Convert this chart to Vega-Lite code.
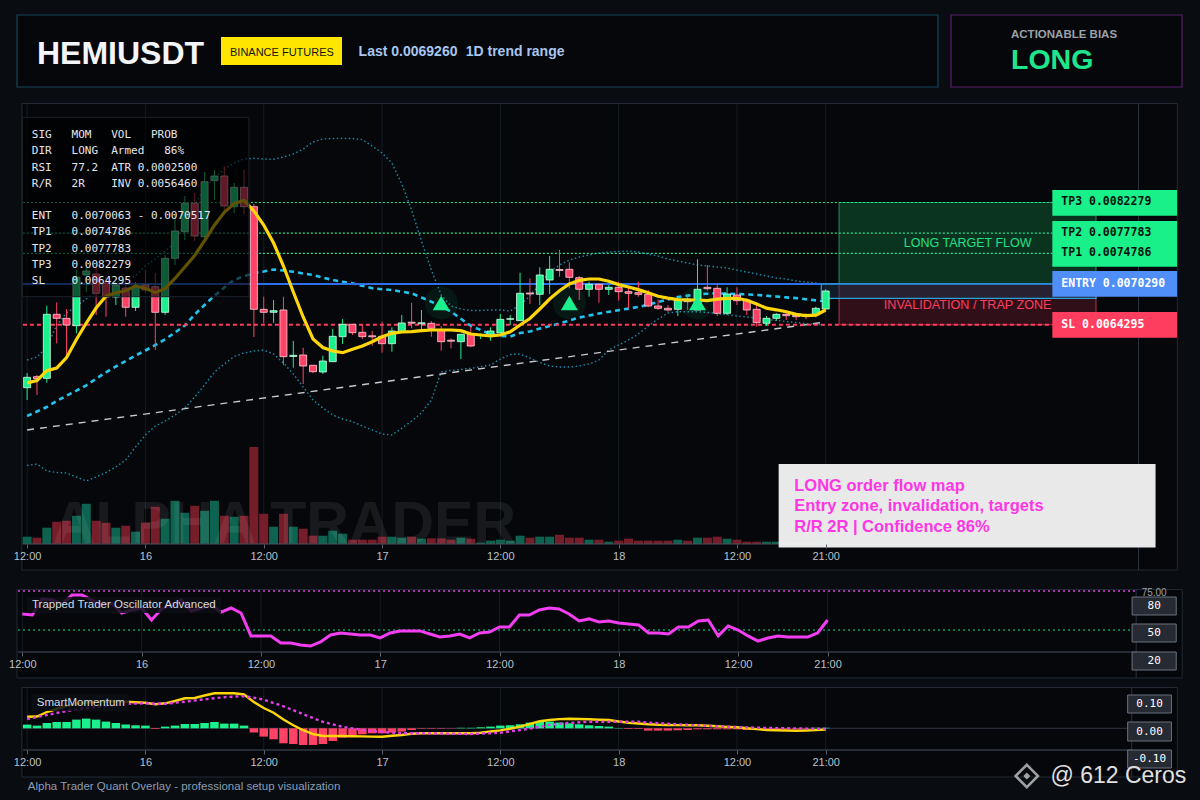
{
"$schema": "https://vega.github.io/schema/vega-lite/v6.json",
"background": "#090c11",
"padding": 0,
"spacing": 0,
"bounds": "flush",
"config": {"view": {"stroke": null}, "font": "Liberation Sans"},
"datasets": {
"bars": [
{"hour":0,"o":0.005504,"h":0.0057202,"l":0.0053231,"c":0.0056569,"vol":22,"ema":0.0055731,"bbu":0.0059114,"bbm":0.0050878,"bbl":0.0043599,"osc":60.3,"mh":0.0148,"my":0.0464,"mm":0.0372},
{"hour":1,"o":0.0056658,"h":0.0056908,"l":0.0053966,"c":0.0056364,"vol":19,"ema":0.0056099,"bbu":0.0059555,"bbm":0.005154,"bbl":0.0043819,"osc":59.6,"mh":0.0108,"my":0.0472,"mm":0.0452},
{"hour":2,"o":0.0056422,"h":0.0067099,"l":0.0055775,"c":0.0065834,"vol":49,"ema":0.005754,"bbu":0.0061025,"bbm":0.0052202,"bbl":0.004279,"osc":69.9,"mh":0.0212,"my":0.0652,"mm":0.0532},
{"hour":3,"o":0.0065834,"h":0.0067599,"l":0.0061569,"c":0.0065246,"vol":67,"ema":0.0057937,"bbu":0.0064261,"bbm":0.0053084,"bbl":0.0042569,"osc":69.2,"mh":0.0252,"my":0.0772,"mm":0.0612},
{"hour":4,"o":0.0065246,"h":0.0066614,"l":0.0059849,"c":0.0064261,"vol":70,"ema":0.0059481,"bbu":0.0066025,"bbm":0.0053864,"bbl":0.0042496,"osc":66.7,"mh":0.0252,"my":0.0904,"mm":0.0692},
{"hour":5,"o":0.0064158,"h":0.0072349,"l":0.006304,"c":0.0071319,"vol":85,"ema":0.0062128,"bbu":0.0067055,"bbm":0.0054599,"bbl":0.0041908,"osc":72.4,"mh":0.0348,"my":0.0972,"mm":0.0748},
{"hour":6,"o":0.0071614,"h":0.007279,"l":0.0069114,"c":0.0072202,"vol":121,"ema":0.0064555,"bbu":0.0068084,"bbm":0.0055393,"bbl":0.0041319,"osc":72.4,"mh":0.0388,"my":0.1032,"mm":0.0812},
{"hour":7,"o":0.0071761,"h":0.0072834,"l":0.0065731,"c":0.0068922,"vol":70,"ema":0.0066761,"bbu":0.0069114,"bbm":0.0056364,"bbl":0.0041908,"osc":69.2,"mh":0.0348,"my":0.1064,"mm":0.0852},
{"hour":8,"o":0.0070437,"h":0.0071364,"l":0.0065481,"c":0.0068378,"vol":64,"ema":0.0068525,"bbu":0.0069849,"bbm":0.0057305,"bbl":0.0042569,"osc":66.0,"mh":0.0268,"my":0.1092,"mm":0.0892},
{"hour":9,"o":0.0068378,"h":0.0070584,"l":0.0067202,"c":0.0070143,"vol":49,"ema":0.0069011,"bbu":0.0070584,"bbm":0.0058158,"bbl":0.0043378,"osc":67.3,"mh":0.0212,"my":0.108,"mm":0.0932},
{"hour":10,"o":0.0069702,"h":0.0071172,"l":0.0065481,"c":0.0066864,"vol":55,"ema":0.0069305,"bbu":0.0070952,"bbm":0.0058966,"bbl":0.0044408,"osc":60.9,"mh":0.0148,"my":0.1064,"mm":0.0972},
{"hour":11,"o":0.0066864,"h":0.0070584,"l":0.0066319,"c":0.0069893,"vol":37,"ema":0.0069996,"bbu":0.0071466,"bbm":0.0059775,"bbl":0.0046319,"osc":62.8,"mh":0.012,"my":0.1044,"mm":0.0988},
{"hour":12,"o":0.0070143,"h":0.0072349,"l":0.0068966,"c":0.0069408,"vol":64,"ema":0.0069658,"bbu":0.0072937,"bbm":0.0060511,"bbl":0.0048084,"osc":64.1,"mh":0.0108,"my":0.102,"mm":0.1},
{"hour":13,"o":0.0069893,"h":0.0071908,"l":0.0060584,"c":0.0066128,"vol":112,"ema":0.0069025,"bbu":0.0073966,"bbm":0.0061319,"bbl":0.0049408,"osc":56.4,"mh":-0.0028,"my":0.096,"mm":0.0984},
{"hour":14,"o":0.0066128,"h":0.0074555,"l":0.0065731,"c":0.0074069,"vol":76,"ema":0.0069643,"bbu":0.0075143,"bbm":0.0062172,"bbl":0.0050143,"osc":63.5,"mh":0.0068,"my":0.1,"mm":0.098},
{"hour":15,"o":0.0074069,"h":0.0080437,"l":0.0073084,"c":0.0078084,"vol":130,"ema":0.0071099,"bbu":0.007632,"bbm":0.0063158,"bbl":0.0051025,"osc":66.0,"mh":0.0108,"my":0.1092,"mm":0.1024},
{"hour":16,"o":0.0077981,"h":0.0083231,"l":0.0076761,"c":0.0082158,"vol":94,"ema":0.007279,"bbu":0.0079555,"bbm":0.0064187,"bbl":0.0052055,"osc":69.2,"mh":0.0172,"my":0.12,"mm":0.1064},
{"hour":17,"o":0.0082158,"h":0.0083672,"l":0.0076614,"c":0.0077349,"vol":115,"ema":0.0074481,"bbu":0.0081908,"bbm":0.0065805,"bbl":0.0053672,"osc":62.2,"mh":0.0172,"my":0.1212,"mm":0.1112},
{"hour":18,"o":0.0077246,"h":0.0086761,"l":0.0076761,"c":0.0085334,"vol":100,"ema":0.0076658,"bbu":0.0084408,"bbm":0.0067202,"bbl":0.0055437,"osc":64.1,"mh":0.0212,"my":0.1312,"mm":0.116},
{"hour":19,"o":0.0085481,"h":0.0087055,"l":0.0082643,"c":0.0086172,"vol":130,"ema":0.0078937,"bbu":0.0085879,"bbm":0.0068569,"bbl":0.0057349,"osc":66.0,"mh":0.0252,"my":0.14,"mm":0.1204},
{"hour":20,"o":0.0086172,"h":0.0087643,"l":0.0081025,"c":0.0081761,"vol":85,"ema":0.0080834,"bbu":0.0087202,"bbm":0.0069775,"bbl":0.0058525,"osc":61.5,"mh":0.0188,"my":0.14,"mm":0.1244},
{"hour":21,"o":0.0081658,"h":0.0085143,"l":0.0080731,"c":0.0084511,"vol":82,"ema":0.0082114,"bbu":0.0088084,"bbm":0.0070922,"bbl":0.0059628,"osc":64.1,"mh":0.0188,"my":0.14,"mm":0.1268},
{"hour":22,"o":0.0084511,"h":0.0087055,"l":0.0080584,"c":0.0081658,"vol":85,"ema":0.0082584,"bbu":0.0088672,"bbm":0.0071422,"bbl":0.0060143,"osc":60.9,"mh":0.0108,"my":0.1352,"mm":0.1284},
{"hour":23,"o":0.0081658,"h":0.0082055,"l":0.0062496,"c":0.0066569,"vol":292,"ema":0.0081025,"bbu":0.0088775,"bbm":0.0071908,"bbl":0.0060437,"osc":46.2,"mh":-0.0172,"my":0.1052,"mm":0.122},
{"hour":24,"o":0.0066569,"h":0.0068422,"l":0.0064511,"c":0.0066128,"vol":91,"ema":0.0078966,"bbu":0.0088672,"bbm":0.0072128,"bbl":0.0060584,"osc":46.2,"mh":-0.0332,"my":0.0812,"mm":0.1148},
{"hour":25,"o":0.0066128,"h":0.0067937,"l":0.0064599,"c":0.0066364,"vol":52,"ema":0.0076319,"bbu":0.0088628,"bbm":0.0072422,"bbl":0.0059996,"osc":46.2,"mh":-0.044,"my":0.0624,"mm":0.1012},
{"hour":26,"o":0.0066466,"h":0.0068422,"l":0.0058378,"c":0.0059599,"vol":91,"ema":0.0072937,"bbu":0.0088966,"bbm":0.0072275,"bbl":0.0058672,"osc":41.7,"mh":-0.06,"my":0.0348,"mm":0.088},
{"hour":27,"o":0.0059628,"h":0.0061908,"l":0.0057981,"c":0.0059805,"vol":52,"ema":0.0069114,"bbu":0.0089408,"bbm":0.0072099,"bbl":0.0057055,"osc":41.7,"mh":-0.0628,"my":0.012,"mm":0.0724},
{"hour":28,"o":0.0059849,"h":0.0060922,"l":0.0055584,"c":0.0058231,"vol":46,"ema":0.0065437,"bbu":0.0090143,"bbm":0.0071834,"bbl":0.0055143,"osc":40.4,"mh":-0.0668,"my":-0.0076,"mm":0.0564},
{"hour":29,"o":0.0058334,"h":0.0058378,"l":0.0057158,"c":0.0057393,"vol":25,"ema":0.0062202,"bbu":0.0091172,"bbm":0.0071614,"bbl":0.0053231,"osc":39.7,"mh":-0.0668,"my":-0.0228,"mm":0.0412},
{"hour":30,"o":0.0057349,"h":0.0059746,"l":0.0057055,"c":0.0058966,"vol":25,"ema":0.0060952,"bbu":0.0091613,"bbm":0.0071246,"bbl":0.0052055,"osc":42.3,"mh":-0.0628,"my":-0.0308,"mm":0.026},
{"hour":31,"o":0.0058864,"h":0.0063672,"l":0.0058864,"c":0.0062599,"vol":40,"ema":0.0060437,"bbu":0.0091687,"bbm":0.0070878,"bbl":0.0051025,"osc":46.8,"mh":-0.0508,"my":-0.0308,"mm":0.016},
{"hour":32,"o":0.006254,"h":0.0065143,"l":0.0061466,"c":0.0064364,"vol":31,"ema":0.0060187,"bbu":0.0091716,"bbm":0.0070628,"bbl":0.0050437,"osc":48.1,"mh":-0.0372,"my":-0.0308,"mm":0.006},
{"hour":33,"o":0.0064364,"h":0.0064408,"l":0.006279,"c":0.0063128,"vol":13,"ema":0.0060687,"bbu":0.0091687,"bbm":0.0070393,"bbl":0.005004,"osc":47.4,"mh":-0.0268,"my":-0.0316,"mm":-0.0004},
{"hour":34,"o":0.0063187,"h":0.0064261,"l":0.0062202,"c":0.006254,"vol":13,"ema":0.0061172,"bbu":0.009154,"bbm":0.0070025,"bbl":0.0049408,"osc":46.8,"mh":-0.024,"my":-0.0324,"mm":-0.0068},
{"hour":35,"o":0.0062672,"h":0.0063378,"l":0.0061216,"c":0.0062525,"vol":13,"ema":0.0061805,"bbu":0.0090584,"bbm":0.0069658,"bbl":0.0048819,"osc":46.8,"mh":-0.02,"my":-0.0332,"mm":-0.0108},
{"hour":36,"o":0.0062599,"h":0.0064746,"l":0.0060187,"c":0.0061511,"vol":22,"ema":0.006254,"bbu":0.0089555,"bbm":0.0069525,"bbl":0.0048231,"osc":44.9,"mh":-0.02,"my":-0.0336,"mm":-0.0148},
{"hour":37,"o":0.0061511,"h":0.0063922,"l":0.0060334,"c":0.0063378,"vol":22,"ema":0.006304,"bbu":0.0088084,"bbm":0.0069408,"bbl":0.0048084,"osc":48.1,"mh":-0.0172,"my":-0.03,"mm":-0.0172},
{"hour":38,"o":0.0063275,"h":0.0065731,"l":0.0063187,"c":0.0064555,"vol":19,"ema":0.0063231,"bbu":0.0084996,"bbm":0.0069158,"bbl":0.0049069,"osc":49.4,"mh":-0.0132,"my":-0.0268,"mm":-0.02},
{"hour":39,"o":0.0064672,"h":0.006754,"l":0.0063775,"c":0.0064525,"vol":22,"ema":0.0063275,"bbu":0.0081172,"bbm":0.0068922,"bbl":0.0050143,"osc":49.4,"mh":-0.0068,"my":-0.022,"mm":-0.02},
{"hour":40,"o":0.0064437,"h":0.0066466,"l":0.0063525,"c":0.0064584,"vol":16,"ema":0.0063422,"bbu":0.0076614,"bbm":0.0068305,"bbl":0.0051319,"osc":49.4,"mh":-0.002,"my":-0.02,"mm":-0.02},
{"hour":41,"o":0.0064511,"h":0.0064849,"l":0.006254,"c":0.0063775,"vol":17,"ema":0.0063525,"bbu":0.0072349,"bbm":0.0067687,"bbl":0.0053231,"osc":47.4,"mh":-0.002,"my":-0.02,"mm":-0.0204},
{"hour":42,"o":0.0063525,"h":0.0064114,"l":0.0060481,"c":0.0061805,"vol":17,"ema":0.0063525,"bbu":0.0068672,"bbm":0.0066966,"bbl":0.0057349,"osc":45.5,"mh":-0.002,"my":-0.02,"mm":-0.0208},
{"hour":43,"o":0.0062025,"h":0.0062305,"l":0.0060834,"c":0.0061878,"vol":13,"ema":0.0063525,"bbu":0.0067055,"bbm":0.0066231,"bbl":0.0057569,"osc":46.2,"mh":-0.0012,"my":-0.02,"mm":-0.0212},
{"hour":44,"o":0.0061805,"h":0.0062937,"l":0.0059261,"c":0.0062893,"vol":19,"ema":0.0063422,"bbu":0.0066614,"bbm":0.0065172,"bbl":0.0057716,"osc":47.4,"mh":0.002,"my":-0.02,"mm":-0.022},
{"hour":45,"o":0.0062893,"h":0.0064011,"l":0.0060981,"c":0.0061172,"vol":16,"ema":0.0062937,"bbu":0.0066393,"bbm":0.0064143,"bbl":0.0057893,"osc":44.9,"mh":0.002,"my":-0.02,"mm":-0.0228},
{"hour":46,"o":0.0062716,"h":0.006304,"l":0.0062202,"c":0.0062864,"vol":4,"ema":0.006279,"bbu":0.0066393,"bbm":0.0063525,"bbl":0.0058128,"osc":48.1,"mh":0.004,"my":-0.0176,"mm":-0.0212},
{"hour":47,"o":0.0062893,"h":0.0063922,"l":0.0061952,"c":0.0063378,"vol":10,"ema":0.0062643,"bbu":0.0066466,"bbm":0.0062908,"bbl":0.0058378,"osc":48.7,"mh":0.0068,"my":-0.0128,"mm":-0.0196},
{"hour":48,"o":0.0063084,"h":0.0065878,"l":0.006304,"c":0.0065099,"vol":13,"ema":0.006279,"bbu":0.0066466,"bbm":0.0062672,"bbl":0.0059261,"osc":51.9,"mh":0.0108,"my":-0.0084,"mm":-0.0176},
{"hour":49,"o":0.0065099,"h":0.0065731,"l":0.0064261,"c":0.0065187,"vol":10,"ema":0.0063275,"bbu":0.0066319,"bbm":0.0062569,"bbl":0.0059922,"osc":51.9,"mh":0.012,"my":-0.0016,"mm":-0.0124},
{"hour":50,"o":0.0064893,"h":0.0071952,"l":0.0064893,"c":0.0068922,"vol":25,"ema":0.0064261,"bbu":0.0067202,"bbm":0.0063084,"bbl":0.0059996,"osc":59.6,"mh":0.016,"my":0.0064,"mm":-0.0068},
{"hour":51,"o":0.0068966,"h":0.0071128,"l":0.0067349,"c":0.0068819,"vol":19,"ema":0.0065216,"bbu":0.0068525,"bbm":0.0063305,"bbl":0.0059408,"osc":59.6,"mh":0.0228,"my":0.0172,"mm":-0.0012},
{"hour":52,"o":0.0068775,"h":0.0072746,"l":0.0067202,"c":0.0071614,"vol":22,"ema":0.0066614,"bbu":0.007029,"bbm":0.0063746,"bbl":0.0058746,"osc":62.8,"mh":0.0268,"my":0.0284,"mm":0.0064},
{"hour":53,"o":0.0070878,"h":0.0074408,"l":0.0068819,"c":0.0072452,"vol":22,"ema":0.0068084,"bbu":0.0072055,"bbm":0.0064114,"bbl":0.0058231,"osc":64.1,"mh":0.0268,"my":0.0332,"mm":0.0136},
{"hour":54,"o":0.0072422,"h":0.007529,"l":0.0071364,"c":0.0072275,"vol":28,"ema":0.006929,"bbu":0.0073084,"bbm":0.0064481,"bbl":0.0058084,"osc":63.5,"mh":0.0228,"my":0.0368,"mm":0.0184},
{"hour":55,"o":0.0072452,"h":0.0073481,"l":0.0069658,"c":0.0071275,"vol":19,"ema":0.007029,"bbu":0.0073819,"bbm":0.0064908,"bbl":0.0058084,"osc":60.3,"mh":0.02,"my":0.0384,"mm":0.0212},
{"hour":56,"o":0.0071216,"h":0.0071466,"l":0.0067937,"c":0.0069511,"vol":19,"ema":0.0070834,"bbu":0.007426,"bbm":0.0065364,"bbl":0.0058231,"osc":55.8,"mh":0.016,"my":0.0372,"mm":0.024},
{"hour":57,"o":0.0069511,"h":0.0070628,"l":0.0068422,"c":0.0070246,"vol":13,"ema":0.0071025,"bbu":0.0074555,"bbm":0.0065658,"bbl":0.0058525,"osc":57.1,"mh":0.012,"my":0.036,"mm":0.0264},
{"hour":58,"o":0.0070246,"h":0.0070393,"l":0.006754,"c":0.0069511,"vol":13,"ema":0.0071025,"bbu":0.0074849,"bbm":0.0065952,"bbl":0.0059114,"osc":55.1,"mh":0.0092,"my":0.0344,"mm":0.0264},
{"hour":59,"o":0.0069511,"h":0.0070143,"l":0.0068672,"c":0.0069805,"vol":7,"ema":0.0070687,"bbu":0.0074996,"bbm":0.0066202,"bbl":0.0060584,"osc":55.8,"mh":0.0068,"my":0.0332,"mm":0.0264},
{"hour":60,"o":0.0069805,"h":0.0070628,"l":0.0067834,"c":0.0069158,"vol":10,"ema":0.0070202,"bbu":0.0075069,"bbm":0.0066437,"bbl":0.006132,"osc":54.5,"mh":0.0012,"my":0.0272,"mm":0.0264},
{"hour":61,"o":0.0069158,"h":0.0069893,"l":0.0066716,"c":0.0068922,"vol":16,"ema":0.0069849,"bbu":0.0075143,"bbm":0.0066672,"bbl":0.0062055,"osc":53.8,"mh":-0.0028,"my":0.0224,"mm":0.0264},
{"hour":62,"o":0.0069011,"h":0.0070628,"l":0.0068422,"c":0.0068775,"vol":10,"ema":0.0069466,"bbu":0.0074996,"bbm":0.0066908,"bbl":0.0062937,"osc":53.2,"mh":-0.0028,"my":0.0192,"mm":0.0264},
{"hour":63,"o":0.0068775,"h":0.0069408,"l":0.0066864,"c":0.0067055,"vol":10,"ema":0.0068996,"bbu":0.0074702,"bbm":0.0067275,"bbl":0.0064114,"osc":48.1,"mh":-0.0092,"my":0.016,"mm":0.0224},
{"hour":64,"o":0.0067055,"h":0.006804,"l":0.0066466,"c":0.0066716,"vol":10,"ema":0.0068496,"bbu":0.0074408,"bbm":0.0067643,"bbl":0.0065143,"osc":48.1,"mh":-0.0092,"my":0.014,"mm":0.0204},
{"hour":65,"o":0.0066716,"h":0.0067202,"l":0.0066216,"c":0.0066466,"vol":10,"ema":0.0068216,"bbu":0.0073966,"bbm":0.0068011,"bbl":0.0066025,"osc":47.4,"mh":-0.0092,"my":0.0132,"mm":0.0184},
{"hour":66,"o":0.0066569,"h":0.0068422,"l":0.0065584,"c":0.0067937,"vol":13,"ema":0.0067981,"bbu":0.0073672,"bbm":0.0068378,"bbl":0.0066216,"osc":51.9,"mh":-0.008,"my":0.0128,"mm":0.016},
{"hour":67,"o":0.0068084,"h":0.0068672,"l":0.0066466,"c":0.0067687,"vol":10,"ema":0.0067937,"bbu":0.0073378,"bbm":0.0068584,"bbl":0.0066216,"osc":51.9,"mh":-0.0068,"my":0.0124,"mm":0.014},
{"hour":68,"o":0.0066466,"h":0.0073922,"l":0.0066466,"c":0.0069511,"vol":19,"ema":0.0067937,"bbu":0.0073084,"bbm":0.006879,"bbl":0.0066216,"osc":55.8,"mh":-0.004,"my":0.012,"mm":0.012},
{"hour":69,"o":0.0069805,"h":0.0073084,"l":0.0069305,"c":0.0069599,"vol":19,"ema":0.0067849,"bbu":0.0072937,"bbm":0.0068864,"bbl":0.0066099,"osc":56.4,"mh":-0.004,"my":0.01,"mm":0.01},
{"hour":70,"o":0.0069658,"h":0.0070246,"l":0.0065584,"c":0.0065981,"vol":22,"ema":0.0068055,"bbu":0.007279,"bbm":0.0068922,"bbl":0.0065952,"osc":46.2,"mh":-0.004,"my":0.008,"mm":0.0084},
{"hour":71,"o":0.0065981,"h":0.0069805,"l":0.0065731,"c":0.0068819,"vol":16,"ema":0.0068172,"bbu":0.0072643,"bbm":0.0068878,"bbl":0.0065761,"osc":52.6,"mh":-0.004,"my":0.0056,"mm":0.0064},
{"hour":72,"o":0.0068672,"h":0.0069805,"l":0.0067202,"c":0.0067834,"vol":13,"ema":0.0068187,"bbu":0.0072349,"bbm":0.0068819,"bbl":0.0065584,"osc":50.0,"mh":-0.004,"my":0.004,"mm":0.0052},
{"hour":73,"o":0.0067937,"h":0.0068187,"l":0.0065731,"c":0.0066466,"vol":7,"ema":0.0067908,"bbu":0.0072055,"bbm":0.0068761,"bbl":0.0065437,"osc":46.2,"mh":-0.0068,"my":0.0004,"mm":0.0036},
{"hour":74,"o":0.0066569,"h":0.0067202,"l":0.0064011,"c":0.0064599,"vol":7,"ema":0.0067349,"bbu":0.0071761,"bbm":0.0068687,"bbl":0.006529,"osc":42.9,"mh":-0.0068,"my":-0.0032,"mm":0.0024},
{"hour":75,"o":0.0064511,"h":0.0065584,"l":0.0064114,"c":0.0065246,"vol":7,"ema":0.0066731,"bbu":0.0071466,"bbm":0.0068569,"bbl":0.0065099,"osc":44.9,"mh":-0.0068,"my":-0.0068,"mm":0.0012},
{"hour":76,"o":0.0065246,"h":0.0065981,"l":0.0064893,"c":0.0065834,"vol":7,"ema":0.0066496,"bbu":0.0071172,"bbm":0.0068452,"bbl":0.0064922,"osc":46.2,"mh":-0.004,"my":-0.0076,"mm":0.0008},
{"hour":77,"o":0.0065834,"h":0.0066216,"l":0.0064996,"c":0.0065628,"vol":6,"ema":0.0066202,"bbu":0.0071025,"bbm":0.006832,"bbl":0.0064775,"osc":45.5,"mh":-0.004,"my":-0.0088,"mm":0},
{"hour":78,"o":0.0065687,"h":0.0066069,"l":0.0064996,"c":0.0065481,"vol":6,"ema":0.0065819,"bbu":0.0070731,"bbm":0.0068216,"bbl":0.0064628,"osc":45.5,"mh":-0.004,"my":-0.0096,"mm":-0.0004},
{"hour":79,"o":0.0065687,"h":0.0065981,"l":0.0065099,"c":0.006554,"vol":6,"ema":0.0065643,"bbu":0.0070584,"bbm":0.0068055,"bbl":0.0064481,"osc":45.5,"mh":-0.002,"my":-0.0088,"mm":-0.0012},
{"hour":80,"o":0.0065731,"h":0.0066952,"l":0.0065393,"c":0.0066716,"vol":8,"ema":0.0065702,"bbu":0.0070437,"bbm":0.0067878,"bbl":0.0064334,"osc":48.1,"mh":0.002,"my":-0.0072,"mm":-0.0016},
{"hour":81,"o":0.0066614,"h":0.0069511,"l":0.0066466,"c":0.0069261,"vol":10,"ema":0.0066466,"bbu":0.007029,"bbm":0.0067746,"bbl":0.0064261,"osc":56.4,"mh":0.002,"my":-0.0048,"mm":-0.002}
],
"levels": [
{"name":"TP3","price":0.0082279,"label":"TP3 0.0082279"},
{"name":"TP2","price":0.0077783,"label":"TP2 0.0077783"},
{"name":"TP1","price":0.0074786,"label":"TP1 0.0074786"},
{"name":"ENTRY","price":0.007029,"label":"ENTRY 0.0070290"},
{"name":"SL","price":0.0064295,"label":"SL 0.0064295"}
],
"signals": [{"hour":42,"price":0.0067496},{"hour":55,"price":0.0067496},{"hour":68,"price":0.0067496}],
"trend": [{"hour":0,"price":0.0048819},{"hour":81,"price":0.0064702}],
"ticks": [{"hour":0},{"hour":12},{"hour":24},{"hour":36},{"hour":48},{"hour":60},{"hour":72},{"hour":81}]
},
"vconcat": [
{
"width": 1200, "height": 103,
"data": {"values": [{}]},
"layer": [
{"mark": {"type": "rect", "fill": "#05070b", "stroke": "#15475a", "strokeWidth": 1.2},
 "encoding": {"x": {"datum": 17, "type": "quantitative", "scale": {"domain": [0, 1200], "nice": false, "zero": false}, "axis": null}, "x2": {"datum": 938},
  "y": {"datum": 15, "type": "quantitative", "scale": {"domain": [0, 103], "reverse": true, "nice": false, "zero": false}, "axis": null}, "y2": {"datum": 87}}},
{"mark": {"type": "rect", "fill": "#05070b", "stroke": "#5a1f6d", "strokeWidth": 1.2},
 "encoding": {"x": {"datum": 951, "type": "quantitative", "axis": null}, "x2": {"datum": 1182}, "y": {"datum": 15, "type": "quantitative", "axis": null}, "y2": {"datum": 87}}},
{"mark": {"type": "rect", "fill": "#ffe600"},
 "encoding": {"x": {"datum": 221, "type": "quantitative", "axis": null}, "x2": {"datum": 342}, "y": {"datum": 37, "type": "quantitative", "axis": null}, "y2": {"datum": 65}}},
{"mark": {"type": "text", "text": "HEMIUSDT", "fontSize": 32, "fontWeight": "bold", "color": "#f3f5f9", "align": "left", "baseline": "alphabetic"},
 "encoding": {"x": {"datum": 37, "type": "quantitative", "axis": null}, "y": {"datum": 63.5, "type": "quantitative", "axis": null}}},
{"mark": {"type": "text", "text": "BINANCE FUTURES", "fontSize": 11, "color": "#141414", "align": "left", "baseline": "alphabetic"},
 "encoding": {"x": {"datum": 230, "type": "quantitative", "axis": null}, "y": {"datum": 55.5, "type": "quantitative", "axis": null}}},
{"mark": {"type": "text", "text": "Last 0.0069260", "fontSize": 14, "fontWeight": "bold", "color": "#a9c5f0", "align": "left", "baseline": "alphabetic"},
 "encoding": {"x": {"datum": 358.6, "type": "quantitative", "axis": null}, "y": {"datum": 56, "type": "quantitative", "axis": null}}},
{"mark": {"type": "text", "text": "1D trend range", "fontSize": 14, "fontWeight": "bold", "color": "#a9c5f0", "align": "left", "baseline": "alphabetic"},
 "encoding": {"x": {"datum": 465.7, "type": "quantitative", "axis": null}, "y": {"datum": 56, "type": "quantitative", "axis": null}}},
{"mark": {"type": "text", "text": "ACTIONABLE BIAS", "fontSize": 11.5, "fontWeight": "bold", "color": "#9ca1a9", "align": "left", "baseline": "alphabetic"},
 "encoding": {"x": {"datum": 1011, "type": "quantitative", "axis": null}, "y": {"datum": 38.3, "type": "quantitative", "axis": null}}},
{"mark": {"type": "text", "text": "LONG", "fontSize": 28.5, "fontWeight": "bold", "color": "#1ee68c", "align": "left", "baseline": "alphabetic"},
 "encoding": {"x": {"datum": 1011, "type": "quantitative", "axis": null}, "y": {"datum": 69, "type": "quantitative", "axis": null}}}
]
},
{
"width": 1200, "height": 486,
"layer": [
{"layer": [
 {"data": {"values": [{}]}, "mark": {"type": "rect", "fill": "#05070b", "stroke": "#232a35", "strokeWidth": 1},
  "encoding": {"x": {"datum": -0.533, "type": "quantitative", "scale": {"domain": [-2.2435, 118.4608], "nice": false, "zero": false},
    "axis": {"values": [0, 12, 24, 36, 48, 60, 72, 81], "labelExpr": "datum.value == 81 ? '21:00' : datum.value % 24 == 0 ? '12:00' : datum.value == 12 ? '16' : datum.value == 36 ? '17' : '18'", "offset": -45, "zindex": 2, "title": null, "grid": false, "domain": false, "tickSize": 4, "tickColor": "#5b616d", "labelColor": "#bcc1c9", "labelFontSize": 11, "labelPadding": 2, "labelOverlap": false}},
   "x2": {"datum": 116.67},
   "y": {"datum": 0.0028231, "type": "quantitative", "scale": {"domain": [0.0025437, 0.0096908], "nice": false, "zero": false}, "axis": null}, "y2": {"datum": 0.0096834}}},
 {"data": {"name": "ticks"}, "mark": {"type": "rule", "color": "#141c26", "strokeWidth": 1},
  "encoding": {"x": {"field": "hour", "type": "quantitative"}, "y": {"datum": 0.0032055, "type": "quantitative", "axis": null}, "y2": {"datum": 0.009676}}},
 {"data": {"values": [{}]}, "mark": {"type": "rule", "color": "#2a3140", "strokeWidth": 1},
  "encoding": {"x": {"datum": 112.73, "type": "quantitative"}, "y": {"datum": 0.0028231, "type": "quantitative", "axis": null}, "y2": {"datum": 0.0096834}}},
 {"data": {"values": [{}]}, "mark": {"type": "rect", "fill": "#0c3823", "fillOpacity": 0.92, "stroke": "#1f8f58", "strokeWidth": 1},
  "encoding": {"x": {"datum": 82.36, "type": "quantitative"}, "x2": {"datum": 108.42}, "y": {"datum": 0.007029, "type": "quantitative", "axis": null}, "y2": {"datum": 0.0082279}}},
 {"data": {"values": [{}]}, "mark": {"type": "rect", "fill": "#35101a", "fillOpacity": 0.92, "stroke": "#b8304c", "strokeWidth": 1},
  "encoding": {"x": {"datum": 82.36, "type": "quantitative"}, "x2": {"datum": 108.42}, "y": {"datum": 0.0064295, "type": "quantitative", "axis": null}, "y2": {"datum": 0.007029}}}
]},
{"data": {"name": "bars"}, "mark": {"type": "bar", "size": 9, "opacity": 0.92},
 "encoding": {"x": {"field": "hour", "type": "quantitative"},
  "y": {"field": "vol", "type": "quantitative", "scale": {"domain": [0, 292], "range": [441, 344], "nice": false}, "axis": null},
  "color": {"condition": {"test": "datum.c >= datum.o", "value": "#0e6b56"}, "value": "#801f2e"}}},
{"layer": [
 {"data": {"name": "bars"}, "mark": {"type": "line", "color": "#1a8ea8", "strokeWidth": 1.4, "strokeDash": [1.5, 2.5]},
  "encoding": {"x": {"field": "hour", "type": "quantitative"}, "y": {"field": "bbu", "type": "quantitative", "scale": {"domain": [0.0025437, 0.0096908], "nice": false, "zero": false}, "axis": null}}},
 {"data": {"name": "bars"}, "mark": {"type": "line", "color": "#1a8ea8", "strokeWidth": 1.4, "strokeDash": [1.5, 2.5]},
  "encoding": {"x": {"field": "hour", "type": "quantitative"}, "y": {"field": "bbl", "type": "quantitative", "axis": null}}},
 {"data": {"name": "bars"}, "mark": {"type": "line", "color": "#22c4ee", "strokeWidth": 2.6, "strokeDash": [5, 4]},
  "encoding": {"x": {"field": "hour", "type": "quantitative"}, "y": {"field": "bbm", "type": "quantitative", "axis": null}}},
 {"data": {"name": "trend"}, "mark": {"type": "line", "color": "#c6c9cf", "strokeWidth": 1.4, "strokeDash": [7, 6]},
  "encoding": {"x": {"field": "hour", "type": "quantitative"}, "y": {"field": "price", "type": "quantitative", "axis": null}}},
 {"data": {"name": "levels"}, "transform": [{"filter": "indexof(datum.name, 'TP') == 0"}], "mark": {"type": "rule", "color": "#19e68c", "strokeWidth": 1.2, "strokeDash": [2, 2]},
  "encoding": {"x": {"datum": -0.43, "type": "quantitative"}, "x2": {"datum": 104.0}, "y": {"field": "price", "type": "quantitative", "axis": null}}},
 {"data": {"name": "levels"}, "transform": [{"filter": "datum.name == 'ENTRY'"}], "mark": {"type": "rule", "color": "#2d6fe8", "strokeWidth": 2.2},
  "encoding": {"x": {"datum": -0.43, "type": "quantitative"}, "x2": {"datum": 104.0}, "y": {"field": "price", "type": "quantitative", "axis": null}}},
 {"data": {"name": "levels"}, "transform": [{"filter": "datum.name == 'SL'"}], "mark": {"type": "rule", "color": "#ff3d5f", "strokeWidth": 2, "strokeDash": [4, 3]},
  "encoding": {"x": {"datum": -0.43, "type": "quantitative"}, "x2": {"datum": 104.0}, "y": {"field": "price", "type": "quantitative", "axis": null}}},
 {"data": {"values": [{}]}, "mark": {"type": "rect", "fill": "#1e3850", "fillOpacity": 0.45, "stroke": "#2aa3dc", "strokeWidth": 1.2},
  "encoding": {"x": {"datum": 80.55, "type": "quantitative"}, "x2": {"datum": 108.42}, "y": {"datum": 0.0068187, "type": "quantitative", "axis": null}, "y2": {"datum": 0.007029}}},
 {"data": {"name": "bars"}, "mark": {"type": "rule", "strokeWidth": 1},
  "encoding": {"x": {"field": "hour", "type": "quantitative"}, "y": {"field": "l", "type": "quantitative", "axis": null}, "y2": {"field": "h"},
   "color": {"condition": {"test": "datum.c >= datum.o", "value": "#1cf08e"}, "value": "#ff4266"}}},
 {"data": {"name": "bars"}, "mark": {"type": "bar", "size": 7, "strokeWidth": 0.8},
  "encoding": {"x": {"field": "hour", "type": "quantitative"}, "y": {"field": "o", "type": "quantitative", "axis": null}, "y2": {"field": "c"},
   "color": {"condition": {"test": "datum.c >= datum.o", "value": "#1cf08e"}, "value": "#ff4266"},
   "stroke": {"condition": {"test": "datum.c >= datum.o", "value": "#d4ffe8"}, "value": "#ffd0da"}}},
 {"data": {"name": "bars"}, "mark": {"type": "line", "color": "#ffd60a", "strokeWidth": 3.2},
  "encoding": {"x": {"field": "hour", "type": "quantitative"}, "y": {"field": "ema", "type": "quantitative", "axis": null}}},
 {"data": {"name": "signals"}, "mark": {"type": "circle", "size": 1100, "color": "#1cf08e", "opacity": 0.07},
  "encoding": {"x": {"field": "hour", "type": "quantitative"}, "y": {"field": "price", "type": "quantitative", "axis": null}}},
 {"data": {"name": "signals"}, "mark": {"type": "point", "shape": "triangle-up", "size": 290, "filled": true, "color": "#1cf08e", "opacity": 1},
  "encoding": {"x": {"field": "hour", "type": "quantitative"}, "y": {"field": "price", "type": "quantitative", "axis": null}}},
 {"data": {"values": [{}]}, "mark": {"type": "text", "text": "ALPHA TRADER", "fontSize": 59, "fontWeight": "bold", "color": "#ffffff", "opacity": 0.07, "align": "center", "baseline": "alphabetic"},
  "encoding": {"x": {"datum": 26.1, "type": "quantitative"}, "y": {"datum": 0.00322, "type": "quantitative", "axis": null}}},
 {"data": {"values": [{}]}, "mark": {"type": "rect", "fill": "#000000", "fillOpacity": 0.62, "stroke": "#1c222c", "strokeWidth": 1},
  "encoding": {"x": {"datum": -0.47, "type": "quantitative"}, "x2": {"datum": 22.5}, "y": {"datum": 0.0068422, "type": "quantitative", "axis": null}, "y2": {"datum": 0.0094805}}},
 {"data": {"values": [{}]}, "mark": {"type": "text", "text": ["SIG\u00a0\u00a0\u00a0MOM\u00a0\u00a0\u00a0VOL\u00a0\u00a0\u00a0PROB", "DIR\u00a0\u00a0\u00a0LONG\u00a0\u00a0Armed\u00a0\u00a0\u00a086%", "RSI\u00a0\u00a0\u00a077.2\u00a0\u00a0ATR\u00a00.0002500", "R/R\u00a0\u00a0\u00a02R\u00a0\u00a0\u00a0\u00a0INV\u00a00.0056460"], "font": "DejaVu Sans Mono", "fontSize": 11, "lineHeight": 16.2, "color": "#e4e7ec", "align": "left", "baseline": "alphabetic"},
  "encoding": {"x": {"datum": 0.473, "type": "quantitative"}, "y": {"datum": 0.0091716, "type": "quantitative", "axis": null}}},
 {"data": {"values": [{}]}, "mark": {"type": "text", "text": ["ENT\u00a0\u00a0\u00a00.0070063\u00a0-\u00a00.0070517", "TP1\u00a0\u00a0\u00a00.0074786", "TP2\u00a0\u00a0\u00a00.0077783", "TP3\u00a0\u00a0\u00a00.0082279", "SL\u00a0\u00a0\u00a0\u00a00.0064295"], "font": "DejaVu Sans Mono", "fontSize": 11, "lineHeight": 16.2, "color": "#e4e7ec", "align": "left", "baseline": "alphabetic"},
  "encoding": {"x": {"datum": 0.473, "type": "quantitative"}, "y": {"datum": 0.0079809, "type": "quantitative", "axis": null}}},
 {"data": {"values": [{}]}, "mark": {"type": "text", "text": "LONG TARGET FLOW", "fontSize": 12.5, "color": "#20e08a", "align": "center", "baseline": "middle"},
  "encoding": {"x": {"datum": 95.4, "type": "quantitative"}, "y": {"datum": 0.007632, "type": "quantitative", "axis": null}}},
 {"data": {"values": [{}]}, "mark": {"type": "text", "text": "INVALIDATION / TRAP ZONE", "fontSize": 12.6, "color": "#ff3d60", "align": "center", "baseline": "middle"},
  "encoding": {"x": {"datum": 95.4, "type": "quantitative"}, "y": {"datum": 0.0067246, "type": "quantitative", "axis": null}}},
 {"data": {"values": [{}]}, "mark": {"type": "rect", "fill": "#19f08a"},
  "encoding": {"x": {"datum": 103.99, "type": "quantitative"}, "x2": {"datum": 116.64}, "y": {"datum": 0.0080334, "type": "quantitative", "axis": null}, "y2": {"datum": 0.0084114}}},
 {"data": {"values": [{}]}, "mark": {"type": "rect", "fill": "#19f08a"},
  "encoding": {"x": {"datum": 103.99, "type": "quantitative"}, "x2": {"datum": 116.64}, "y": {"datum": 0.0072834, "type": "quantitative", "axis": null}, "y2": {"datum": 0.0079555}}},
 {"data": {"values": [{}]}, "mark": {"type": "rect", "fill": "#4f8ff7"},
  "encoding": {"x": {"datum": 103.99, "type": "quantitative"}, "x2": {"datum": 116.64}, "y": {"datum": 0.0068422, "type": "quantitative", "axis": null}, "y2": {"datum": 0.0072202}}},
 {"data": {"values": [{}]}, "mark": {"type": "rect", "fill": "#ff3d5f"},
  "encoding": {"x": {"datum": 103.99, "type": "quantitative"}, "x2": {"datum": 116.64}, "y": {"datum": 0.0062393, "type": "quantitative", "axis": null}, "y2": {"datum": 0.0066172}}},
 {"data": {"name": "levels"}, "mark": {"type": "text", "font": "DejaVu Sans Mono", "fontSize": 11.5, "fontWeight": "bold", "align": "left", "baseline": "middle"},
  "encoding": {"x": {"datum": 104.9, "type": "quantitative"}, "y": {"field": "price", "type": "quantitative", "axis": null}, "text": {"field": "label"},
   "color": {"condition": {"test": "datum.name == 'ENTRY' || datum.name == 'SL'", "value": "#ffffff"}, "value": "#03140b"}}},
 {"data": {"values": [{}]}, "mark": {"type": "rule", "color": "#4b515d", "strokeWidth": 1},
  "encoding": {"x": {"datum": -0.43, "type": "quantitative"}, "x2": {"datum": 112.73}, "y": {"datum": 0.0032055, "type": "quantitative", "axis": null}}},
 {"data": {"values": [{}]}, "mark": {"type": "rect", "fill": "#f2f2f2", "opacity": 0.96},
  "encoding": {"x": {"datum": 76.23, "type": "quantitative"}, "x2": {"datum": 114.46}, "y": {"datum": 0.003154, "type": "quantitative", "axis": null}, "y2": {"datum": 0.0043819}}},
 {"data": {"values": [{}]}, "mark": {"type": "text", "text": ["LONG order flow map", "Entry zone, invalidation, targets", "R/R 2R | Confidence 86%"], "fontSize": 16.5, "fontWeight": "bold", "lineHeight": 20.5, "color": "#ff36e4", "align": "left", "baseline": "alphabetic"},
  "encoding": {"x": {"datum": 77.81, "type": "quantitative"}, "y": {"datum": 0.0039849, "type": "quantitative", "axis": null}}}
]}
],
"resolve": {"scale": {"y": "independent"}}
},
{
"width": 1200, "height": 98,
"layer": [
 {"data": {"values": [{}]}, "mark": {"type": "rect", "fill": "#05070b", "stroke": "#232a35", "strokeWidth": 1},
  "encoding": {"x": {"datum": -0.533, "type": "quantitative", "scale": {"domain": [-2.2435, 118.4608], "nice": false, "zero": false},
    "axis": {"values": [0, 12, 24, 36, 48, 60, 72, 81], "labelExpr": "datum.value == 81 ? '21:00' : datum.value % 24 == 0 ? '12:00' : datum.value == 12 ? '16' : datum.value == 36 ? '17' : '18'", "offset": -35, "zindex": 2, "title": null, "grid": false, "domain": false, "tickSize": 4, "tickColor": "#5b616d", "labelColor": "#bcc1c9", "labelFontSize": 11, "labelPadding": 2, "labelOverlap": false}},
   "x2": {"datum": 116.67},
   "y": {"datum": 19.23, "type": "quantitative", "scale": {"domain": [13.46, 76.28], "nice": false, "zero": false}, "axis": null}, "y2": {"datum": 75.96}}},
 {"data": {"name": "ticks"}, "mark": {"type": "rule", "color": "#141c26", "strokeWidth": 1},
  "encoding": {"x": {"field": "hour", "type": "quantitative"}, "y": {"datum": 35.9, "type": "quantitative", "axis": null}, "y2": {"datum": 75.64}}},
 {"data": {"values": [{}]}, "mark": {"type": "rule", "color": "#2a3140", "strokeWidth": 1},
  "encoding": {"x": {"datum": 112.04, "type": "quantitative"}, "y": {"datum": 19.23, "type": "quantitative", "axis": null}, "y2": {"datum": 75.96}}},
 {"data": {"values": [{}]}, "mark": {"type": "rule", "color": "#4b515d", "strokeWidth": 1},
  "encoding": {"x": {"datum": -0.43, "type": "quantitative"}, "x2": {"datum": 112.04}, "y": {"datum": 35.9, "type": "quantitative", "axis": null}}},
 {"data": {"values": [{}]}, "mark": {"type": "rule", "color": "#e43fe0", "strokeWidth": 1.3, "strokeDash": [2, 3]},
  "encoding": {"x": {"datum": -0.43, "type": "quantitative"}, "x2": {"datum": 112.04}, "y": {"datum": 75, "type": "quantitative", "axis": null}}},
 {"data": {"values": [{}]}, "mark": {"type": "rule", "color": "#19e68c", "strokeWidth": 1.2, "strokeDash": [2, 3]},
  "encoding": {"x": {"datum": -0.43, "type": "quantitative"}, "x2": {"datum": 112.04}, "y": {"datum": 50, "type": "quantitative", "axis": null}}},
 {"data": {"name": "bars"}, "mark": {"type": "line", "color": "#f23ef0", "strokeWidth": 3},
  "encoding": {"x": {"field": "hour", "type": "quantitative"}, "y": {"field": "osc", "type": "quantitative", "axis": null}}},
 {"data": {"values": [{}]}, "mark": {"type": "rect", "fill": "#0c0f15", "opacity": 0.85},
  "encoding": {"x": {"datum": 0.44, "type": "quantitative"}, "x2": {"datum": 19.99}, "y": {"datum": 60.9, "type": "quantitative", "axis": null}, "y2": {"datum": 71.15}}},
 {"data": {"values": [{}]}, "mark": {"type": "text", "text": "Trapped Trader Oscillator Advanced", "fontSize": 11.5, "color": "#d8dbe0", "align": "left", "baseline": "middle"},
  "encoding": {"x": {"datum": 0.976, "type": "quantitative"}, "y": {"datum": 66.03, "type": "quantitative", "axis": null}}},
 {"data": {"values": [{}]}, "mark": {"type": "text", "text": "75.00", "fontSize": 10, "color": "#9aa0aa", "align": "center", "baseline": "middle"},
  "encoding": {"x": {"datum": 113.85, "type": "quantitative"}, "y": {"datum": 73.6, "type": "quantitative", "axis": null}}},
 {"data": {"values": [{}]}, "mark": {"type": "rect", "fill": "#262a33", "stroke": "#6b717d", "strokeWidth": 1},
  "encoding": {"x": {"datum": 111.63, "type": "quantitative"}, "x2": {"datum": 116.07}, "y": {"datum": 59.62, "type": "quantitative", "axis": null}, "y2": {"datum": 71.15}}},
 {"data": {"values": [{}]}, "mark": {"type": "rect", "fill": "#262a33", "stroke": "#6b717d", "strokeWidth": 1},
  "encoding": {"x": {"datum": 111.63, "type": "quantitative"}, "x2": {"datum": 116.07}, "y": {"datum": 42.31, "type": "quantitative", "axis": null}, "y2": {"datum": 53.85}}},
 {"data": {"values": [{}]}, "mark": {"type": "rect", "fill": "#262a33", "stroke": "#6b717d", "strokeWidth": 1},
  "encoding": {"x": {"datum": 111.63, "type": "quantitative"}, "x2": {"datum": 116.07}, "y": {"datum": 24.36, "type": "quantitative", "axis": null}, "y2": {"datum": 35.9}}},
 {"data": {"values": [{}]}, "mark": {"type": "text", "text": "80", "font": "DejaVu Sans Mono", "fontSize": 11, "color": "#ffffff", "align": "center", "baseline": "middle"},
  "encoding": {"x": {"datum": 113.85, "type": "quantitative"}, "y": {"datum": 65.38, "type": "quantitative", "axis": null}}},
 {"data": {"values": [{}]}, "mark": {"type": "text", "text": "50", "font": "DejaVu Sans Mono", "fontSize": 11, "color": "#ffffff", "align": "center", "baseline": "middle"},
  "encoding": {"x": {"datum": 113.85, "type": "quantitative"}, "y": {"datum": 48.08, "type": "quantitative", "axis": null}}},
 {"data": {"values": [{}]}, "mark": {"type": "text", "text": "20", "font": "DejaVu Sans Mono", "fontSize": 11, "color": "#ffffff", "align": "center", "baseline": "middle"},
  "encoding": {"x": {"datum": 113.85, "type": "quantitative"}, "y": {"datum": 30.13, "type": "quantitative", "axis": null}}}
]
},
{
"width": 1200, "height": 113,
"layer": [
 {"data": {"values": [{}]}, "mark": {"type": "rect", "fill": "#05070b", "stroke": "#232a35", "strokeWidth": 1},
  "encoding": {"x": {"datum": -0.533, "type": "quantitative", "scale": {"domain": [-2.2435, 118.4608], "nice": false, "zero": false},
    "axis": {"values": [0, 12, 24, 36, 48, 60, 72, 81], "labelExpr": "datum.value == 81 ? '21:00' : datum.value % 24 == 0 ? '12:00' : datum.value == 12 ? '16' : datum.value == 36 ? '17' : '18'", "offset": -50, "zindex": 2, "title": null, "grid": false, "domain": false, "tickSize": 4, "tickColor": "#5b616d", "labelColor": "#bcc1c9", "labelFontSize": 11, "labelPadding": 2, "labelOverlap": false}},
   "x2": {"datum": 116.67},
   "y": {"datum": -0.1948, "type": "quantitative", "scale": {"domain": [-0.2868, 0.1652], "nice": false, "zero": false}, "axis": null}, "y2": {"datum": 0.1632}}},
 {"data": {"name": "ticks"}, "mark": {"type": "rule", "color": "#141c26", "strokeWidth": 1},
  "encoding": {"x": {"field": "hour", "type": "quantitative"}, "y": {"datum": -0.0868, "type": "quantitative", "axis": null}, "y2": {"datum": 0.1612}}},
 {"data": {"values": [{}]}, "mark": {"type": "rule", "color": "#2a3140", "strokeWidth": 1},
  "encoding": {"x": {"datum": 112.04, "type": "quantitative"}, "y": {"datum": -0.1948, "type": "quantitative", "axis": null}, "y2": {"datum": 0.1632}}},
 {"data": {"values": [{}]}, "mark": {"type": "rule", "color": "#4b515d", "strokeWidth": 1},
  "encoding": {"x": {"datum": -0.43, "type": "quantitative"}, "x2": {"datum": 112.04}, "y": {"datum": -0.0868, "type": "quantitative", "axis": null}}},
 {"data": {"values": [{}]}, "mark": {"type": "rule", "color": "#2f3440", "strokeWidth": 1},
  "encoding": {"x": {"datum": -0.43, "type": "quantitative"}, "x2": {"datum": 112.04}, "y": {"datum": 0, "type": "quantitative", "axis": null}}},
 {"data": {"name": "bars"}, "mark": {"type": "bar", "size": 8.5},
  "encoding": {"x": {"field": "hour", "type": "quantitative"}, "y": {"field": "mh", "type": "quantitative", "axis": null},
   "color": {"condition": {"test": "datum.mh >= 0", "value": "#1cf08e"}, "value": "#ff4266"}}},
 {"data": {"name": "bars"}, "mark": {"type": "line", "color": "#ffd60a", "strokeWidth": 2.4},
  "encoding": {"x": {"field": "hour", "type": "quantitative"}, "y": {"field": "my", "type": "quantitative", "axis": null}}},
 {"data": {"name": "bars"}, "mark": {"type": "line", "color": "#e23fe6", "strokeWidth": 2.4, "strokeDash": [3, 3]},
  "encoding": {"x": {"field": "hour", "type": "quantitative"}, "y": {"field": "mm", "type": "quantitative", "axis": null}}},
 {"data": {"values": [{}]}, "mark": {"type": "rect", "fill": "#0c0f15", "opacity": 0.85},
  "encoding": {"x": {"datum": 0.44, "type": "quantitative"}, "x2": {"datum": 10.33}, "y": {"datum": 0.0692, "type": "quantitative", "axis": null}, "y2": {"datum": 0.1372}}},
 {"data": {"values": [{}]}, "mark": {"type": "text", "text": "SmartMomentum", "fontSize": 11.5, "color": "#d8dbe0", "align": "left", "baseline": "middle"},
  "encoding": {"x": {"datum": 0.976, "type": "quantitative"}, "y": {"datum": 0.1032, "type": "quantitative", "axis": null}}},
 {"data": {"values": [{}]}, "mark": {"type": "rect", "fill": "#262a33", "stroke": "#6b717d", "strokeWidth": 1},
  "encoding": {"x": {"datum": 111.63, "type": "quantitative"}, "x2": {"datum": 116.07}, "y": {"datum": 0.0612, "type": "quantitative", "axis": null}, "y2": {"datum": 0.1332}}},
 {"data": {"values": [{}]}, "mark": {"type": "rect", "fill": "#262a33", "stroke": "#6b717d", "strokeWidth": 1},
  "encoding": {"x": {"datum": 111.63, "type": "quantitative"}, "x2": {"datum": 116.07}, "y": {"datum": -0.0508, "type": "quantitative", "axis": null}, "y2": {"datum": 0.0252}}},
 {"data": {"values": [{}]}, "mark": {"type": "rect", "fill": "#262a33", "stroke": "#6b717d", "strokeWidth": 1},
  "encoding": {"x": {"datum": 111.63, "type": "quantitative"}, "x2": {"datum": 116.07}, "y": {"datum": -0.1588, "type": "quantitative", "axis": null}, "y2": {"datum": -0.0868}}},
 {"data": {"values": [{}]}, "mark": {"type": "text", "text": "0.10", "font": "DejaVu Sans Mono", "fontSize": 11, "color": "#ffffff", "align": "center", "baseline": "middle"},
  "encoding": {"x": {"datum": 113.85, "type": "quantitative"}, "y": {"datum": 0.0972, "type": "quantitative", "axis": null}}},
 {"data": {"values": [{}]}, "mark": {"type": "text", "text": "0.00", "font": "DejaVu Sans Mono", "fontSize": 11, "color": "#ffffff", "align": "center", "baseline": "middle"},
  "encoding": {"x": {"datum": 113.85, "type": "quantitative"}, "y": {"datum": -0.0128, "type": "quantitative", "axis": null}}},
 {"data": {"values": [{}]}, "mark": {"type": "text", "text": "-0.10", "font": "DejaVu Sans Mono", "fontSize": 11, "color": "#ffffff", "align": "center", "baseline": "middle"},
  "encoding": {"x": {"datum": 113.85, "type": "quantitative"}, "y": {"datum": -0.1228, "type": "quantitative", "axis": null}}},
 {"data": {"values": [{}]}, "mark": {"type": "text", "text": "Alpha Trader Quant Overlay - professional setup visualization", "fontSize": 11.5, "color": "#8b9db3", "align": "left", "baseline": "middle"},
  "encoding": {"x": {"datum": 0.07, "type": "quantitative"}, "y": {"datum": -0.2348, "type": "quantitative", "axis": null}}},
 {"data": {"values": [{}]}, "mark": {"type": "point", "shape": "diamond", "size": 500, "filled": false, "color": "#e0e0e0", "strokeWidth": 2.5},
  "encoding": {"x": {"datum": 101.4, "type": "quantitative"}, "y": {"datum": -0.1908, "type": "quantitative", "axis": null}}},
 {"data": {"values": [{}]}, "mark": {"type": "point", "shape": "diamond", "size": 50, "filled": true, "color": "#e0e0e0"},
  "encoding": {"x": {"datum": 101.4, "type": "quantitative"}, "y": {"datum": -0.1908, "type": "quantitative", "axis": null}}},
 {"data": {"values": [{}]}, "mark": {"type": "text", "text": "@ 612 Ceros", "fontSize": 23, "color": "#e0e0e0", "align": "left", "baseline": "middle"},
  "encoding": {"x": {"datum": 103.8, "type": "quantitative"}, "y": {"datum": -0.1908, "type": "quantitative", "axis": null}}}
]
}
]
}
